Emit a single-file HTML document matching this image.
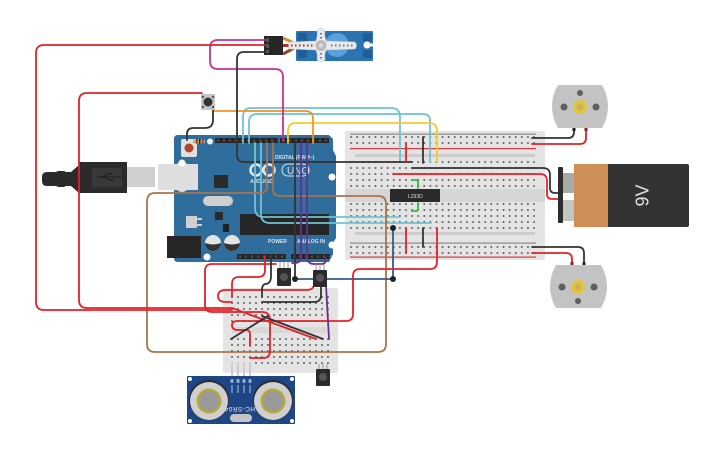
<!DOCTYPE html>
<html><head><meta charset="utf-8"><style>
html,body{margin:0;padding:0;background:#fff}
svg{display:block}
text{font-family:"Liberation Sans",sans-serif}
.w{fill:none;stroke-width:1.8;stroke-linecap:round;stroke-linejoin:round}
</style></head><body>
<svg width="725" height="453" viewBox="0 0 725 453" xmlns="http://www.w3.org/2000/svg">
<defs>
<pattern id="h" x="348" y="134" width="6.1" height="6" patternUnits="userSpaceOnUse"><circle cx="3.05" cy="3" r="1" fill="#5f5f5f"/></pattern>
<pattern id="h1" x="348" y="135" width="6.1" height="6" patternUnits="userSpaceOnUse"><circle cx="3.05" cy="3" r="1" fill="#5f5f5f"/></pattern>
<pattern id="h2" x="348" y="136" width="6.1" height="6" patternUnits="userSpaceOnUse"><circle cx="3.05" cy="3" r="1" fill="#5f5f5f"/></pattern>
<pattern id="s" x="229" y="294" width="6" height="6" patternUnits="userSpaceOnUse"><circle cx="3" cy="3" r="1" fill="#5f5f5f"/></pattern>
<pattern id="hd" x="215" y="138" width="6" height="5" patternUnits="userSpaceOnUse"><rect width="6" height="5" fill="#262626"/><rect x="2" y="1.5" width="2" height="2" fill="#555"/></pattern>
<pattern id="hd2" x="237" y="254" width="6" height="5" patternUnits="userSpaceOnUse"><rect width="6" height="5" fill="#262626"/><rect x="2" y="1.5" width="2" height="2" fill="#555"/></pattern>
</defs>
<rect width="725" height="453" fill="#fff"/>

<!-- USB -->
<path d="M42 177q0-5 5-5h9l2-1h6l2 1h5l8-7v28l-8-7h-5l-2 1h-6l-2-1h-9q-5 0-5-5z" fill="#2b2b2b"/>
<rect x="79" y="162" width="48" height="31" fill="#2b2b2b"/>
<rect x="92" y="168" width="30" height="19" fill="#383838"/>
<path d="M97 177h24M103 177l4-3h5M105 177l4 3h5" stroke="#1a1a1a" fill="none"/>
<rect x="127" y="167" width="28" height="20" fill="#cfcfcf"/>

<!-- Arduino -->
<path d="M178 135H329L333 139V150L336 156V238L333 243V254L329 262H178Q174 262 174 258V139Q174 135 178 135Z" fill="#2f6d9d"/>
<path d="M158 164H177Q182 158 187 164H198V190H187Q182 194 177 190H158Z" fill="#dedede"/>
<rect x="181" y="139" width="16" height="18" rx="2" fill="#e0e0e0"/><circle cx="189" cy="148" r="4.5" fill="#b0452b"/>
<rect x="193" y="139.500" width="12" height="4" rx="2" fill="#cfa76c"/><rect x="196" y="139.500" width="1.500" height="4" fill="#7a2b1e"/><rect x="199" y="139.500" width="1.500" height="4" fill="#222"/><rect x="202" y="139.500" width="1.500" height="4" fill="#a33"/>
<circle cx="210" cy="141.500" r="3" fill="#eee"/>
<rect x="215" y="138" width="63" height="5" fill="url(#hd)"/>
<rect x="280" y="138" width="49" height="5" fill="url(#hd)"/>
<rect x="237" y="254" width="49" height="5" fill="url(#hd2)"/>
<rect x="291" y="254" width="39" height="5" fill="url(#hd2)"/>
<text x="275" y="159" font-size="5" font-weight="bold" fill="#d5e3ee">DIGITAL (PWM~)</text>
<text x="297" y="243" font-size="5" font-weight="bold" fill="#d5e3ee">ANALOG IN</text>
<text x="268" y="243" font-size="5" font-weight="bold" fill="#d5e3ee">POWER</text>
<g fill="none" stroke="#dfe9f1" stroke-width="2.500"><circle cx="256" cy="170" r="5.500"/><circle cx="269" cy="170" r="5.500"/></g>
<text x="250" y="183" font-size="5" font-weight="bold" fill="#d5e3ee">ARDUINO</text>
<rect x="282" y="164" width="27" height="12" rx="6" fill="none" stroke="#d5e3ee"/>
<text x="287" y="174" font-size="10" fill="#d5e3ee">UNO</text>
<rect x="214" y="175" width="14" height="13" fill="#2a2a2a"/>
<rect x="203" y="196" width="30" height="10" rx="5" fill="#cfcfcf"/>
<rect x="215" y="212" width="8" height="8" fill="#2a2a2a"/>
<rect x="240" y="214" width="89" height="21" fill="#262626"/>
<path d="M186 216h11v12h-11z M197 218h5v2h-5z M197 224h5v2h-5z" fill="#d0d0d0"/>
<rect x="223" y="224" width="6" height="8" fill="#222"/>
<rect x="167" y="236" width="34" height="22" fill="#262626"/>
<circle cx="213" cy="243" r="8" fill="#e4e4e4"/><path d="M205 243a8 8 0 0 0 16 0q-8 3-16 0z" fill="#333"/>
<circle cx="232" cy="243" r="8" fill="#e4e4e4"/><path d="M224 243a8 8 0 0 0 16 0q-8 3-16 0z" fill="#333"/>
<g fill="#fff"><circle cx="332" cy="177" r="3.500"/><circle cx="332" cy="245" r="3.500"/><circle cx="207" cy="257" r="3.500"/><circle cx="182" cy="163" r="3.500"/></g>

<!-- Large breadboard -->
<rect x="345" y="131" width="200" height="129" rx="2" fill="#e4e4e4"/>
<rect x="345" y="189" width="200" height="13" fill="#d6d6d6"/>
<rect x="350" y="133.500" width="186" height="1.200" fill="#8c8c8c"/>
<rect x="350" y="148" width="186" height="1.200" fill="#d23a3a"/>
<rect x="350" y="242.500" width="186" height="1.200" fill="#8c8c8c"/>
<rect x="350" y="256.500" width="186" height="1.200" fill="#d23a3a"/>
<rect x="348" y="134" width="187" height="12" fill="url(#h)"/>
<rect x="348" y="159" width="187" height="30" fill="url(#h1)"/>
<rect x="348" y="201" width="187" height="30" fill="url(#h1)"/>
<rect x="348" y="244" width="187" height="12" fill="url(#h2)"/>
<rect x="355" y="154" width="180" height="3" fill="#bdbdbd" opacity=".6"/>
<rect x="355" y="232" width="180" height="3" fill="#bdbdbd" opacity=".6"/>

<!-- Small breadboard -->
<rect x="223" y="288" width="115" height="85" rx="2" fill="#e4e4e4"/>
<rect x="232" y="327" width="88" height="6" fill="#d8d8d8"/>
<circle cx="323" cy="330" r="3.500" fill="#d8d8d8"/>
<rect x="229" y="294" width="102" height="30" fill="url(#s)"/>
<rect x="229" y="336" width="102" height="30" fill="url(#s)"/>

<!-- Servo -->
<rect x="296" y="31" width="77" height="30" rx="1" fill="#2b74b3"/>
<rect x="298" y="33" width="9" height="8" fill="#205f96"/><rect x="298" y="50" width="9" height="8" fill="#205f96"/>
<rect x="363" y="33" width="9" height="8" fill="#205f96"/><rect x="363" y="50" width="9" height="8" fill="#205f96"/>
<circle cx="337" cy="45" r="12" fill="#5b9fd8"/>
<circle cx="367" cy="45" r="3.500" fill="#fff"/><rect x="368" y="43.500" width="5" height="3" fill="#fff"/>
<path d="M283 38L296 44" stroke="#d88a3a" stroke-width="3" fill="none"/>
<path d="M283 45.500H296" stroke="#c0302a" stroke-width="3" fill="none"/>
<path d="M283 54L296 47" stroke="#8a4a25" stroke-width="3" fill="none"/>
<path d="M290 42L316 41Q318 35 317 30Q321 26 325 30Q324 35 326 41L355 42Q358 45.500 355 49L326 50Q324 55 325 60Q321 64 317 60Q318 55 316 50L290 49Q287 45.500 290 42Z" fill="#e9e9e9" stroke="#ccc" stroke-width=".5"/>
<g fill="#8a3a3a"><rect x="291" y="44.500" width="1.500" height="2"/><rect x="295" y="44.500" width="1.500" height="2"/><rect x="299" y="44.500" width="1.500" height="2"/><rect x="303" y="44.500" width="1.500" height="2"/><rect x="307" y="44.500" width="1.500" height="2"/><rect x="311" y="44.500" width="1.500" height="2"/></g>
<g fill="#5a7fa5"><rect x="331" y="44.500" width="1.500" height="2"/><rect x="335" y="44.500" width="1.500" height="2"/><rect x="339" y="44.500" width="1.500" height="2"/><rect x="343" y="44.500" width="1.500" height="2"/><rect x="347" y="44.500" width="1.500" height="2"/><rect x="351" y="44.500" width="1.500" height="2"/><rect x="320" y="33" width="2" height="1.500"/><rect x="320" y="37" width="2" height="1.500"/><rect x="320" y="53" width="2" height="1.500"/><rect x="320" y="57" width="2" height="1.500"/></g>
<circle cx="321" cy="45.500" r="5.500" fill="#bbb"/><circle cx="321" cy="45.500" r="2" fill="#ddd"/>
<rect x="264" y="36" width="19" height="19" fill="#262626"/>
<rect x="266" y="38" width="3" height="4" fill="#555"/><rect x="266" y="44" width="3" height="4" fill="#555"/><rect x="266" y="50" width="3" height="3" fill="#555"/>

<!-- Wires behind -->
<g class="w">
<path stroke="#6fc3d2" d="M243 143V117Q243 108 251 108H391Q400 108 400 117V162"/>
<path stroke="#6fc3d2" d="M249 143V122Q249 114 257 114H422Q430 114 430 120V162"/>
<path stroke="#f2cd2a" d="M288 143V131Q288 123 296 123H429Q437 123 437 131V162"/>
<path stroke="#ee9420" d="M214 111H305Q313 111 313 119V143"/>
<path stroke="#cf2f8f" d="M265 40H218Q210 40 210 48V61Q210 69 218 69H275Q283 69 283 77V141"/>
<path stroke="#333" d="M265 52H244Q237 52 237 59V155Q237 162 244 162H412"/>
<path stroke="#333" d="M213 110V120Q213 128 205 128H193Q187 128 187 134V140"/>
<path stroke="#6fc3d2" d="M255 143V208Q255 217 264 217H400"/>
<path stroke="#6fc3d2" d="M261 143V214Q261 223 270 223H431"/>
<path stroke="#a8754a" d="M267 143V186Q267 193 260 193H155Q147 193 147 202V344Q147 352 155 352H378Q386 352 386 344V204Q386 196 378 196H281Q273 196 273 189V143"/>
<path stroke="#333" d="M295 140V279"/>
<path stroke="#6b2e91" d="M301 143V256Q301 263 295 263H292"/>
<path stroke="#6b2e91" d="M307 143V256Q307 264 314 264H322Q326 264 326 258"/>
</g>

<!-- L293D -->
<rect x="390" y="189" width="50" height="13" fill="#2b2b2b"/>
<text x="408" y="198" font-size="5" fill="#ddd">L293D</text>
<g class="w">
<path stroke="#3db54a" d="M412 180H416Q418 180 418 182V188"/>
<path stroke="#3db54a" d="M418 203V209Q418 211 416 211H412"/>
<path stroke="#e32227" d="M406 143V162"/>
<path stroke="#333" d="M423 137V163"/>
<path stroke="#e32227" d="M406 228V253"/>
<path stroke="#333" d="M423 228V247"/>
<path stroke="#333" d="M412 168H543Q550 168 550 175V188Q550 193 555 193H558"/>
<path stroke="#e32227" d="M393 174H540Q547 174 547 181V194Q547 199 552 199H558"/>
<path stroke="#333" d="M532 138H568Q574 138 574 132V130"/>
<path stroke="#e32227" d="M532 144H580Q586 144 586 138V130"/>
<path stroke="#333" d="M532 247H578Q584 247 584 253V264"/>
<path stroke="#e32227" d="M532 253H566Q572 253 572 259V264"/>
<path stroke="#2c5f8a" d="M295 279H393V228"/>
<path stroke="#e32227" d="M437 228V262Q437 269 430 269H360Q353 269 353 276V314Q353 321 346 321H238Q232 321 232 325Q232 330 238 330H246Q250 330 250 334V346"/>
<path stroke="#e32227" d="M202 93H87Q79 93 79 101V300Q79 308 87 308H232L316 339"/>
<path stroke="#e32227" d="M265 45H44Q36 45 36 53V302Q36 310 44 310H232"/>
<path stroke="#e32227" d="M265 256V270Q265 277 258 277H239Q232 277 232 284V297"/>
<path stroke="#e32227" d="M314 285Q313 290 307 290H226Q218 290 218 296Q218 302 226 302H232"/>
<path stroke="#e32227" d="M276 264H212Q205 264 205 271V305Q205 312 212 312H262Q270 312 270 320V351Q270 358 263 358H250"/>
<path stroke="#333" d="M271 256V276Q271 284 265 284Q262 285 262 290V297"/>
<path stroke="#333" d="M262 302H314Q321 302 321 295V285"/>
<path stroke="#333" d="M262 316L323 339"/>
<path stroke="#333" d="M231 339L268 316"/>
<path stroke="#6b2e91" d="M326 285L329 339"/>
</g>
<circle cx="295" cy="279" r="3" fill="#222"/><circle cx="393" cy="279" r="3" fill="#222"/><circle cx="393" cy="228" r="3" fill="#222"/>

<!-- Button -->
<rect x="201" y="94" width="14" height="16" fill="#c6c6c6"/>
<circle cx="208" cy="102" r="4.500" fill="#333"/>
<g fill="#555"><circle cx="203" cy="97" r="1.200"/><circle cx="213" cy="97" r="1.200"/><circle cx="203" cy="107" r="1.200"/><circle cx="213" cy="107" r="1.200"/></g>

<!-- Transistors -->
<g>
<rect x="277" y="268" width="14" height="18" rx="1" fill="#2b2b2b"/><circle cx="284" cy="277" r="4" fill="#555"/>
<rect x="313" y="270" width="14" height="17" rx="1" fill="#2b2b2b"/><circle cx="320" cy="278" r="4" fill="#555"/>
<rect x="316" y="369" width="14" height="17" rx="1" fill="#2b2b2b"/><circle cx="323" cy="377" r="4" fill="#555"/>
<path d="M280 268V262M284 268V262M288 268V262M316 270V264M320 270V264M324 270V264M319 369V364M323 369V364M327 369V364" stroke="#999" fill="none"/>
</g>

<!-- Ultrasonic -->
<path d="M232 362V376M238 362V376M244 362V376M250 362V376" stroke="#cdcdcd" stroke-width="2"/>
<rect x="187" y="376" width="108" height="48" rx="1" fill="#1f4585"/>
<g fill="#fff"><circle cx="190" cy="379" r="2"/><circle cx="292" cy="379" r="2"/><circle cx="190" cy="421" r="2"/><circle cx="292" cy="421" r="2"/></g>
<g>
<circle cx="209" cy="400" r="20" fill="#2a2a2a"/><circle cx="209" cy="401" r="19" fill="#d0d0d0"/><circle cx="209" cy="401" r="12.500" fill="#b5aa35"/><circle cx="209" cy="401" r="10" fill="#9a9a9a"/>
<circle cx="273" cy="400" r="20" fill="#2a2a2a"/><circle cx="273" cy="401" r="19" fill="#d0d0d0"/><circle cx="273" cy="401" r="12.500" fill="#b5aa35"/><circle cx="273" cy="401" r="10" fill="#9a9a9a"/>
</g>
<rect x="230" y="414" width="22" height="8" rx="4" fill="#c4c4c4"/>
<g fill="#8fb0d8"><rect x="230.500" y="379" width="3" height="4" rx="1"/><rect x="236.500" y="379" width="3" height="4" rx="1"/><rect x="242.500" y="379" width="3" height="4" rx="1"/><rect x="248.500" y="379" width="3" height="4" rx="1"/></g>
<g fill="#8fb0d8" opacity=".6"><rect x="231" y="385" width="2" height="8"/><rect x="237" y="385" width="2" height="8"/><rect x="243" y="385" width="2" height="8"/><rect x="249" y="385" width="2" height="8"/></g>
<text transform="translate(255 407) rotate(180)" font-size="6.500" fill="#e6ecf5" letter-spacing=".4">HC-SR04</text>

<!-- Motors -->
<g>
<path d="M558 85H602Q608 95 608 106Q608 118 602 128H558Q552 118 552 106Q552 95 558 85Z" fill="#c3c3c3"/>
<circle cx="564" cy="107" r="3.500" fill="#5f5f5f"/><circle cx="596" cy="107" r="3.500" fill="#5f5f5f"/><circle cx="580" cy="93" r="3" fill="#5f5f5f"/>
<circle cx="580" cy="107" r="7" fill="#e5c43a"/><circle cx="580" cy="107" r="3.500" fill="#c9b35c"/>
<rect x="572.500" y="128" width="3" height="3" fill="#222"/><rect x="584.500" y="128" width="3" height="3" fill="#8c1f1f"/>
</g>
<g>
<path d="M556 265H601Q607 275 607 287Q607 298 601 308H556Q550 298 550 287Q550 275 556 265Z" fill="#c3c3c3"/>
<circle cx="562" cy="287" r="3.500" fill="#5f5f5f"/><circle cx="594" cy="287" r="3.500" fill="#5f5f5f"/><circle cx="578" cy="301" r="3" fill="#5f5f5f"/>
<circle cx="578" cy="287" r="7" fill="#e5c43a"/><circle cx="578" cy="287" r="3.500" fill="#c9b35c"/>
<rect x="570.500" y="262" width="3" height="3" fill="#8c1f1f"/><rect x="582.500" y="262" width="3" height="3" fill="#222"/>
</g>

<!-- Battery -->
<rect x="558" y="167" width="5" height="56" rx="1" fill="#2d2d2d"/>
<rect x="563" y="173" width="11" height="20" fill="#a9a9a9"/>
<rect x="563" y="200" width="11" height="21" fill="#c4c4c4"/>
<rect x="574" y="164" width="34" height="63" fill="#cf8e55"/>
<path d="M608 164H687Q689 164 689 166V225Q689 227 687 227H608Z" fill="#333"/>
<text transform="translate(648.500 206.500) rotate(-90)" font-size="18" fill="#e2e2e2">9V</text>
</svg>
</body></html>
